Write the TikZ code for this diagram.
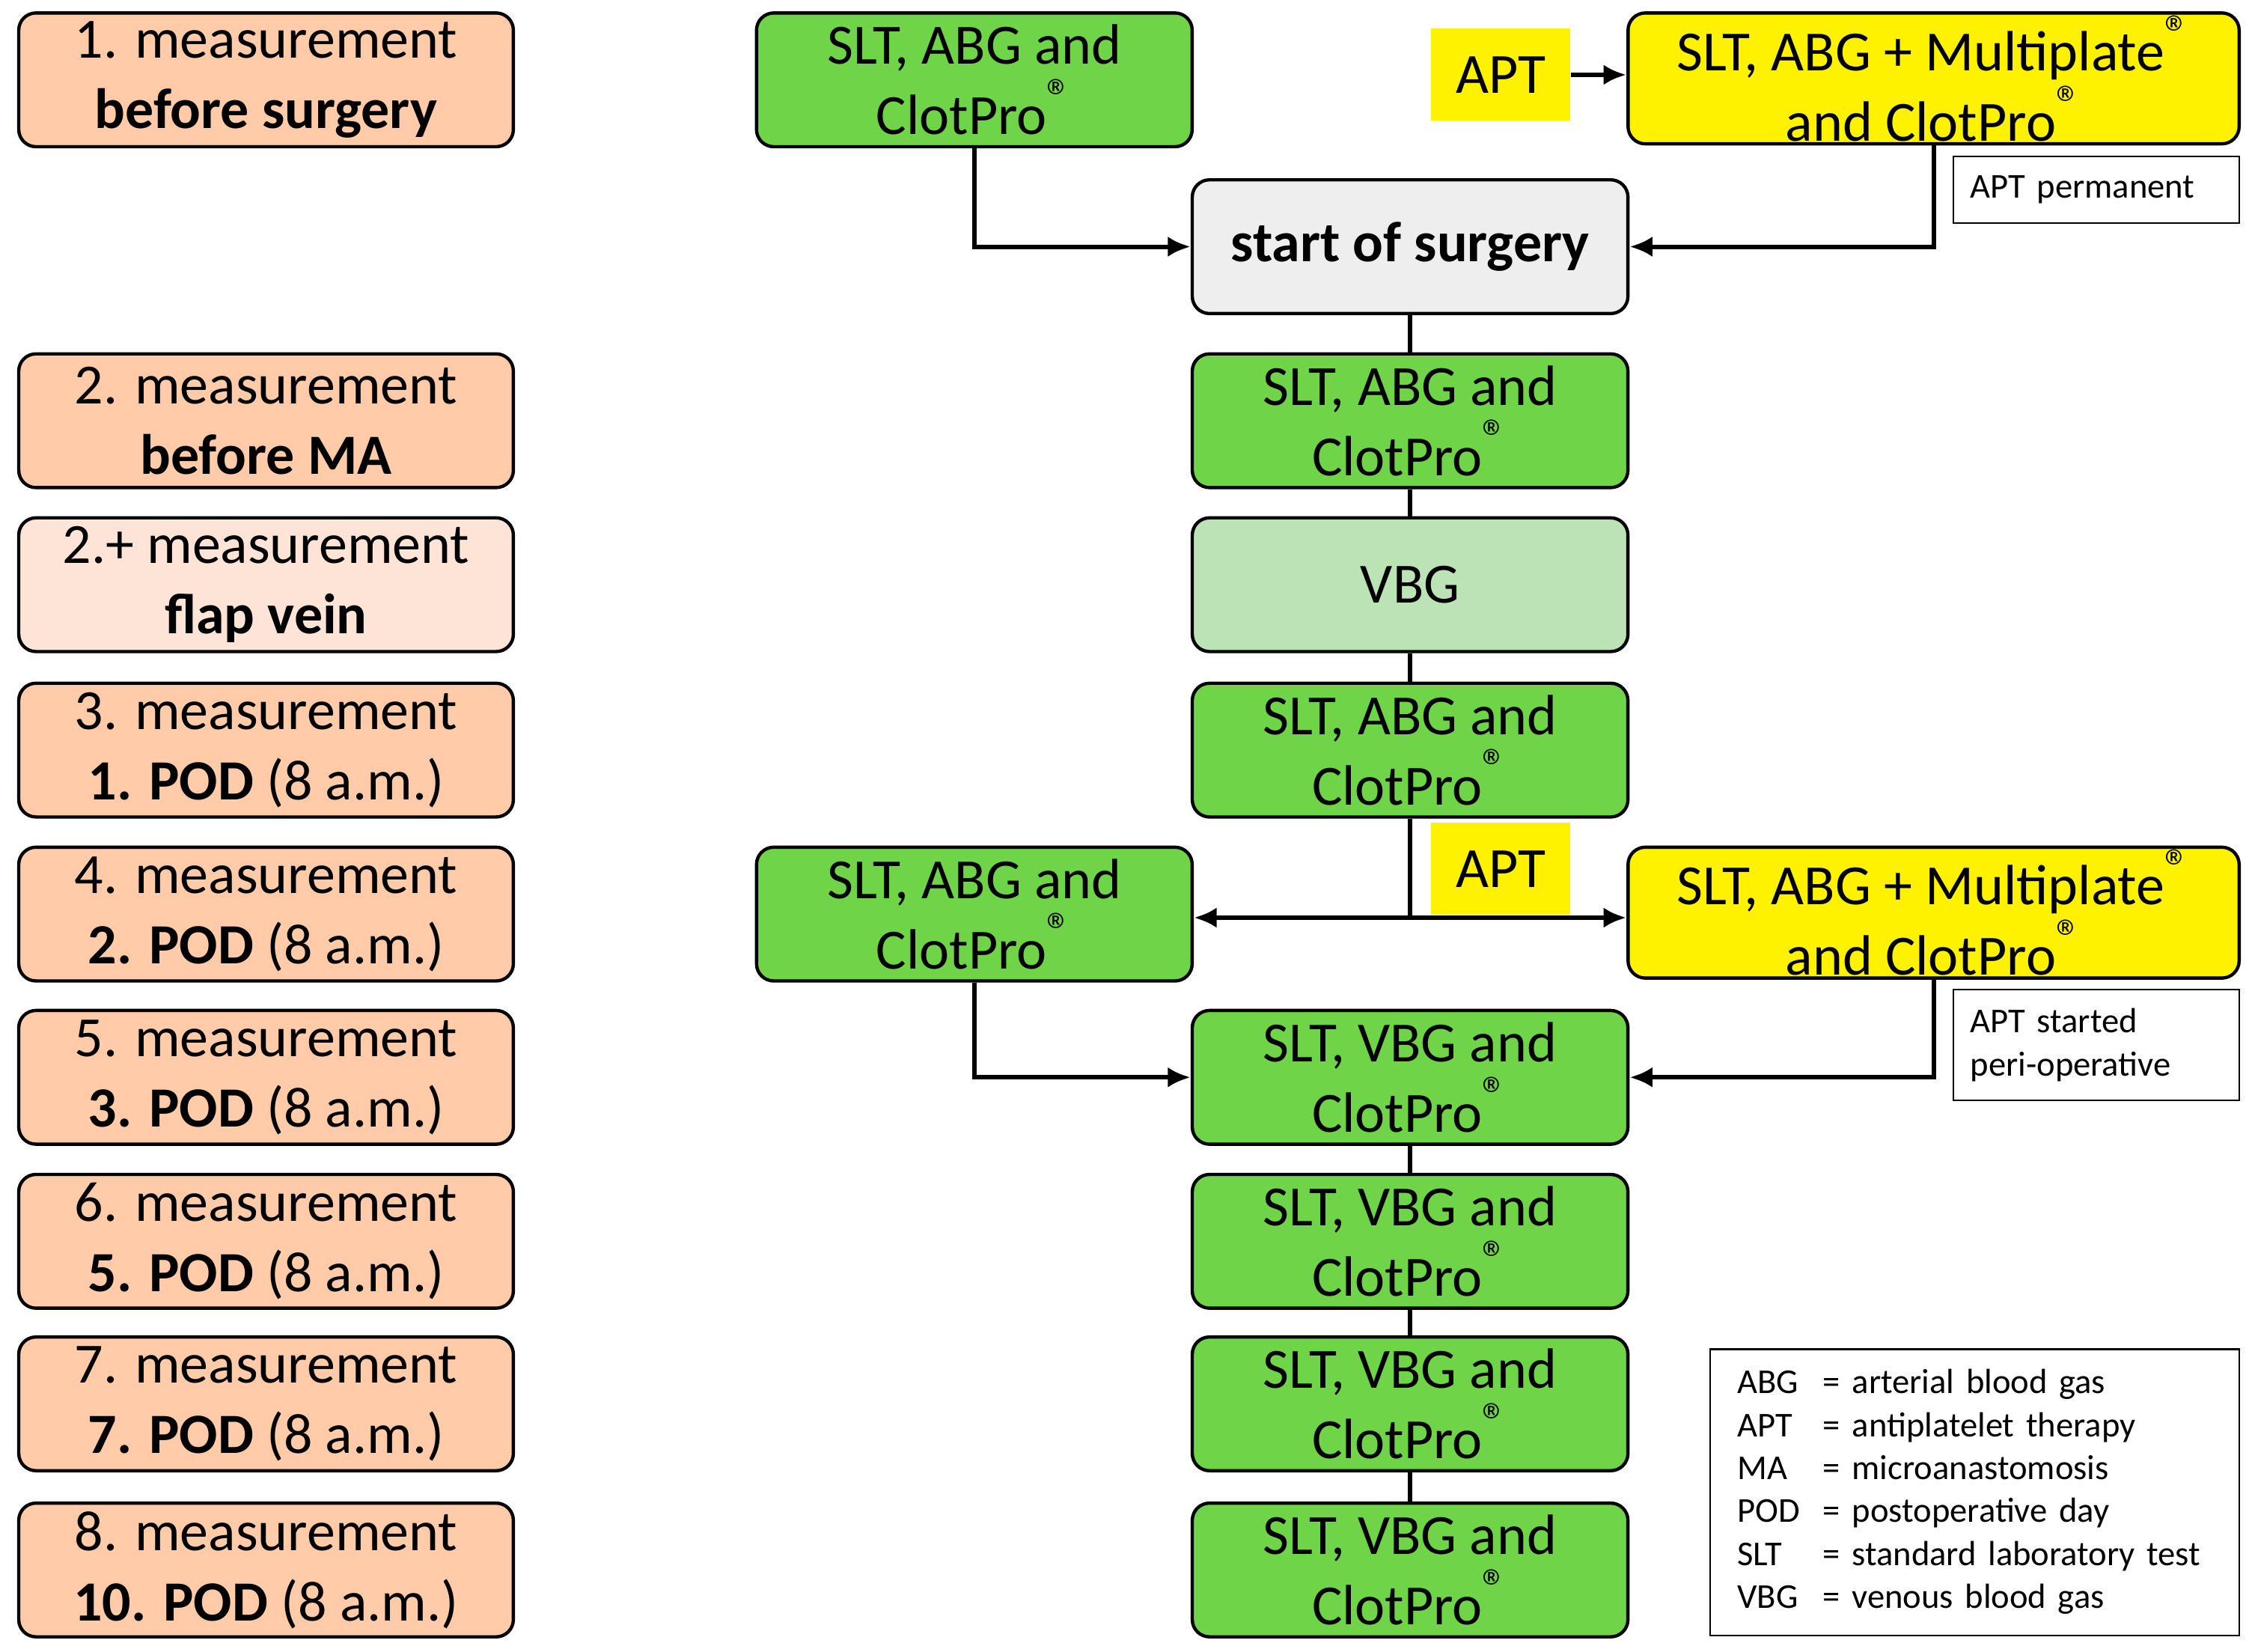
\documentclass[tikz,border=0pt]{standalone}
\usepackage{fontspec}
\setmainfont{Carlito}
\usetikzlibrary{arrows.meta}
\begin{document}
\begin{tikzpicture}[x=0.02cm,y=-0.02cm,
 box/.style={draw=black,line width=1.3pt,rounded corners=0.24cm,align=center,font=\fontsize{22.5}{27.8}\selectfont,inner sep=0pt},
 lbox/.style={box,minimum width=6.88cm,minimum height=1.86cm,fill=peach},
 cbox/.style={box,minimum width=6.06cm,minimum height=1.86cm,fill=grn},
 ybox/.style={box,minimum width=8.5cm,minimum height=1.82cm,fill=yellow},
 apt/.style={fill=yellow,minimum width=1.94cm,minimum height=1.28cm,inner sep=0pt,font=\fontsize{22.5}{27}\selectfont},
 note/.style={draw=black,line width=0.6pt,inner sep=0pt,align=left,font=\fontsize{13.8}{17}\selectfont},
 ln/.style={line width=1.8pt},
 ar/.style={ln,-{Latex[length=9pt,width=8pt]}}]
\definecolor{peach}{HTML}{FFCBA8}
\definecolor{lpeach}{HTML}{FDE4D6}
\definecolor{grn}{HTML}{6FD448}
\definecolor{lgrn}{HTML}{BCE3B5}
\definecolor{gry}{HTML}{EEEEEE}
\useasboundingbox (0,0) rectangle (1568,1148.5);
\def\reg{\raisebox{0.75ex}{\fontsize{20}{20}\selectfont ®}}
\def\clp{ClotPro\reg}
% left column
\node[lbox] (l1) at (185,55.5) {1. measurement\\\textbf{before surgery}};
\node[lbox] (l2) at (185,292.5) {2. measurement\\\textbf{before MA}};
\node[lbox,fill=lpeach] (l2p) at (185,406.5) {2.+ measurement\\\textbf{flap vein}};
\node[lbox] (l3) at (185,521.5) {3. measurement\\\textbf{1. POD} (8 a.m.)};
\node[lbox] (l4) at (185,635.5) {4. measurement\\\textbf{2. POD} (8 a.m.)};
\node[lbox] (l5) at (185,749) {5. measurement\\\textbf{3. POD} (8 a.m.)};
\node[lbox] (l6) at (185,863) {6. measurement\\\textbf{5. POD} (8 a.m.)};
\node[lbox] (l7) at (185,976) {7. measurement\\\textbf{7. POD} (8 a.m.)};
\node[lbox] (l8) at (185,1091.5) {8. measurement\\\textbf{10. POD} (8 a.m.)};
% center
\node[cbox] (g0) at (677.5,55.5) {SLT, ABG and\\\clp};
\node[ybox] (y0) at (1344.5,54.5) {SLT, ABG + Multiplate\reg\\and \clp};
\node[apt] (a0) at (1043.5,52) {APT};
\node[note,minimum width=3.98cm,minimum height=0.92cm,text width=3.5cm] (n0) at (1457.5,132) {APT permanent};
\node[cbox,fill=gry,font=\fontsize{22.5}{27}\selectfont\bfseries] (s) at (980.5,171.5) {start of surgery};
\node[cbox] (c1) at (980.5,292.5) {SLT, ABG and\\\clp};
\node[cbox,fill=lgrn] (v) at (980.5,406.5) {VBG};
\node[cbox] (c2) at (980.5,521.5) {SLT, ABG and\\\clp};
\node[cbox] (g1) at (677.5,635.5) {SLT, ABG and\\\clp};
\node[ybox] (y1) at (1344.5,634.5) {SLT, ABG + Multiplate\reg\\and \clp};
\node[apt] (a1) at (1043.5,604) {APT};
\node[note,minimum width=3.98cm,minimum height=1.54cm,text width=3.5cm] (n1) at (1457.5,726.5) {APT started\\peri-operative};
\node[cbox] (c3) at (980.5,749) {SLT, VBG and\\\clp};
\node[cbox] (c4) at (980.5,863) {SLT, VBG and\\\clp};
\node[cbox] (c5) at (980.5,976) {SLT, VBG and\\\clp};
\node[cbox] (c6) at (980.5,1091.5) {SLT, VBG and\\\clp};
\node[note,minimum width=7.36cm,minimum height=3.98cm,text width=6.6cm] (lg) at (1373,1037.5) {%
\begin{tabular}{@{}l@{\ \ }l@{}}ABG & = arterial blood gas\\APT & = antiplatelet therapy\\MA & = microanastomosis\\POD & = postoperative day\\SLT & = standard laboratory test\\VBG & = venous blood gas\end{tabular}};
% connectors
\draw[ar] (a0) -- (y0.west|-a0);
\draw[ar] (g0.south) |- (s.west);
\draw[ar] (y0.south) |- (s.east);
\draw[ln] (s) -- (c1) (c1) -- (v) (v) -- (c2);
\coordinate (j) at (980.5,638);
\draw[ln] (c2.south) -- (j);
\draw[ar] (j) -- (g1.east|-j);
\draw[ar] (j) -- (y1.west|-j);
\draw[ar] (g1.south) |- (c3.west);
\draw[ar] (y1.south) |- (c3.east);
\draw[ln] (c3) -- (c4) (c4) -- (c5) (c5) -- (c6);
\end{tikzpicture}
\end{document}
